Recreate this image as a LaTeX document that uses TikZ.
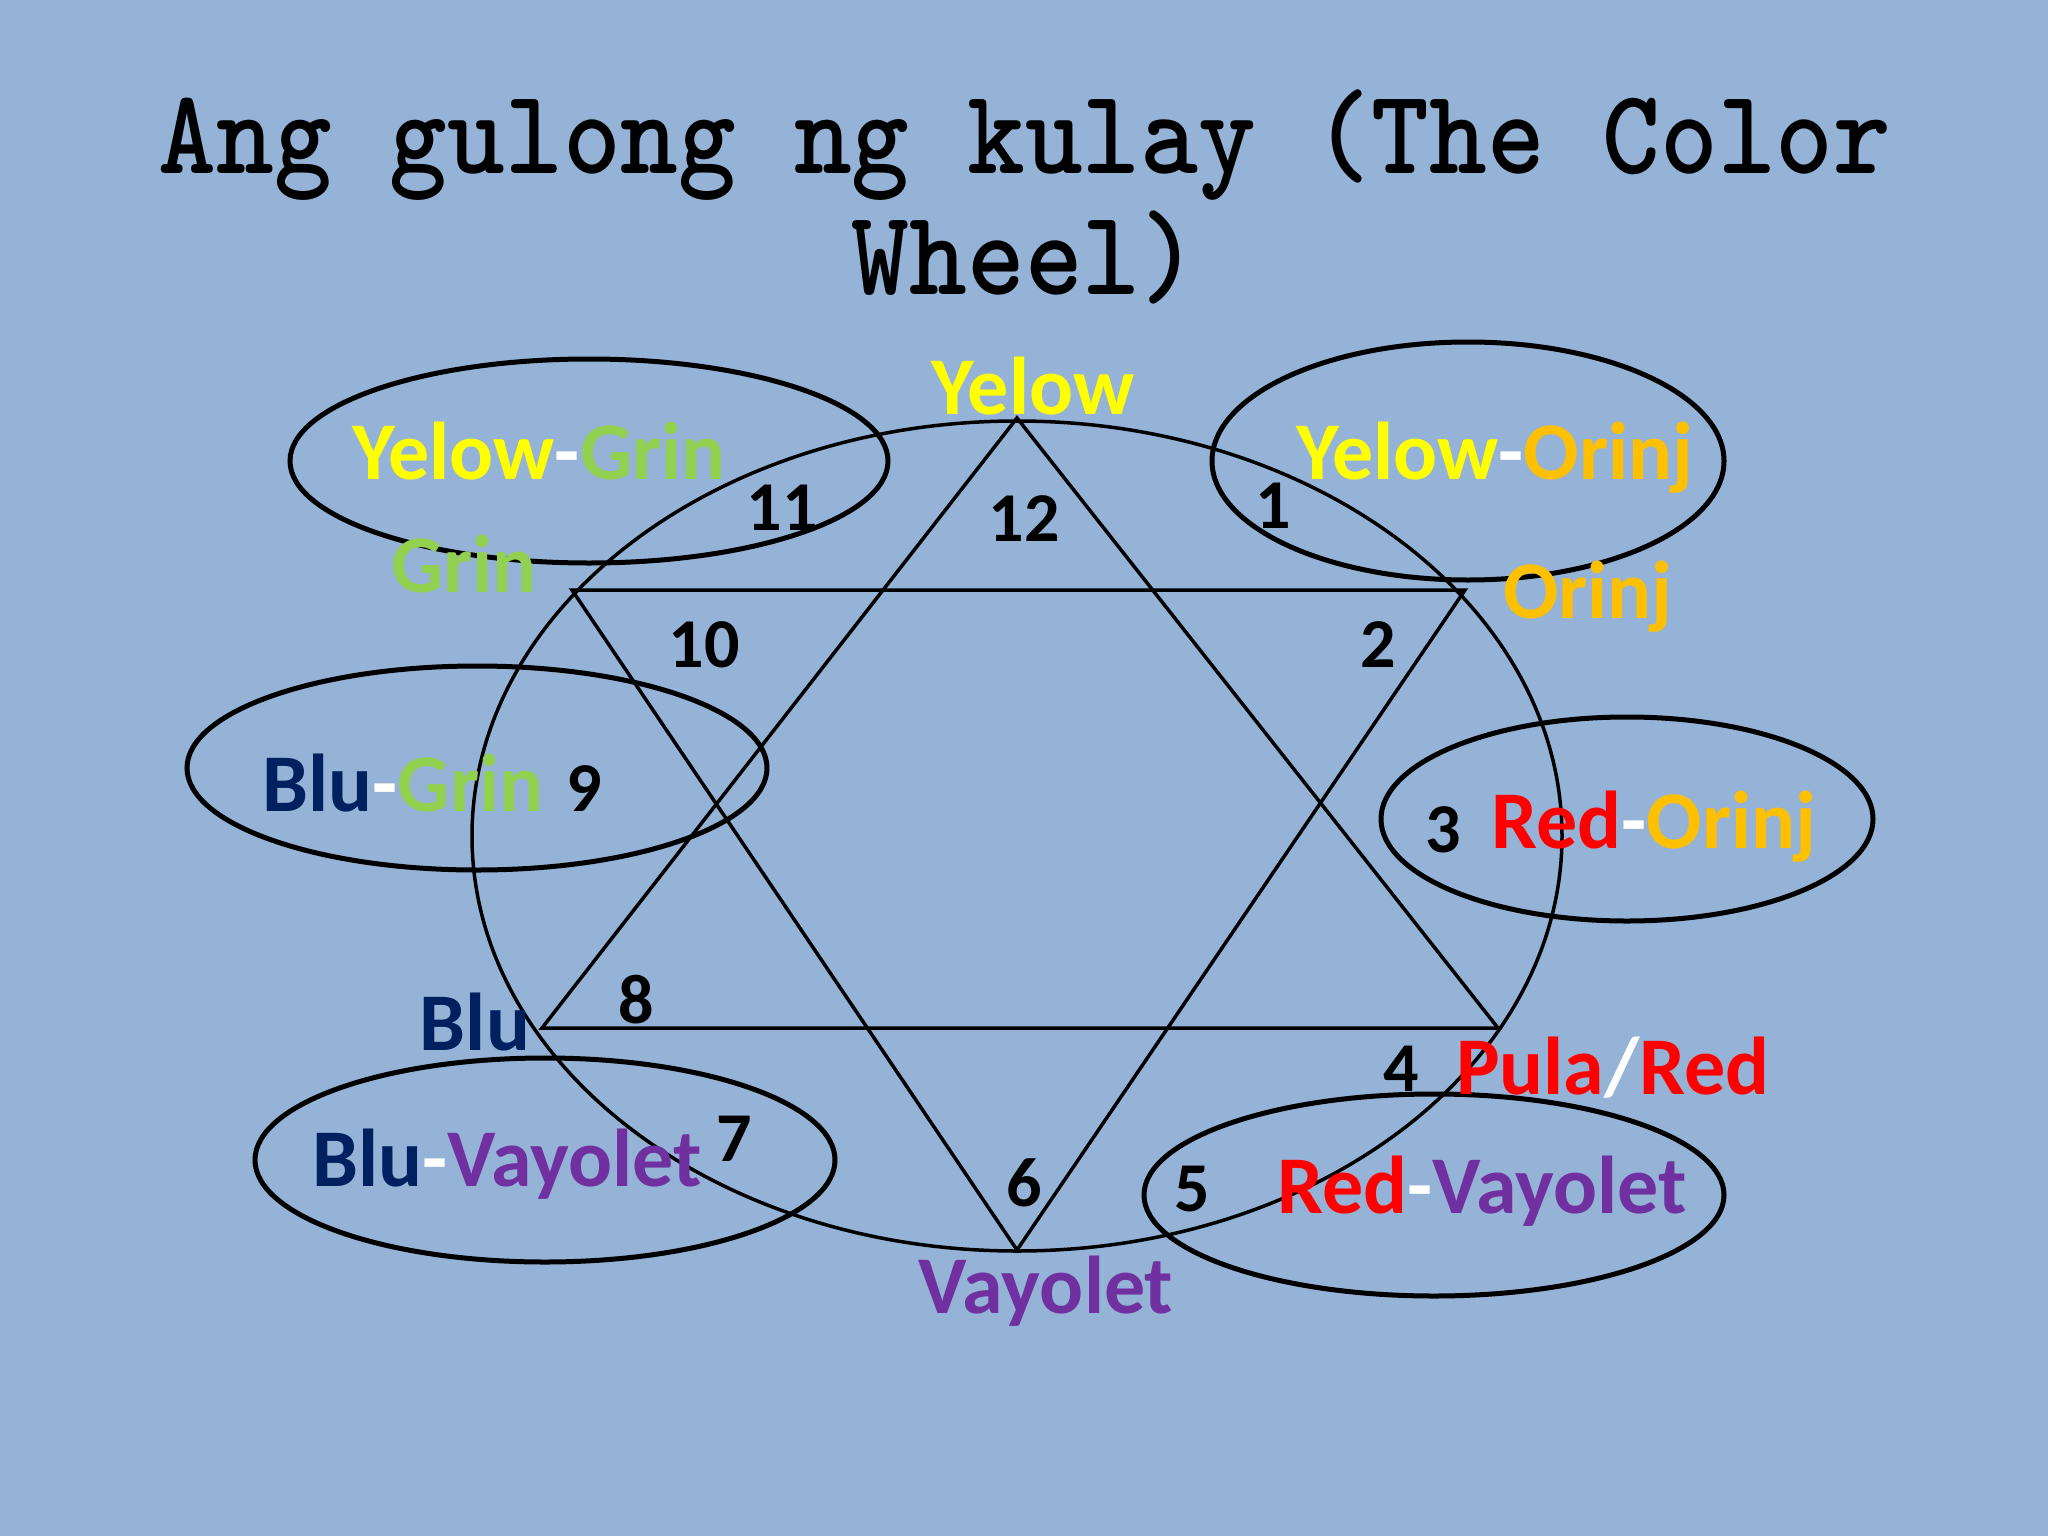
\documentclass[tikz,border=0pt]{standalone}
\usepackage{fontspec}
\setmainfont{Carlito}
\definecolor{bg}{HTML}{95B3D7}
\definecolor{cyel}{HTML}{FFFF00}
\definecolor{cgrn}{HTML}{92D050}
\definecolor{corn}{HTML}{FFC000}
\definecolor{cred}{HTML}{FF0000}
\definecolor{cblu}{HTML}{002060}
\definecolor{cvio}{HTML}{7030A0}
\tikzset{
  lbl/.style={anchor=base, inner sep=0pt, font=\fontsize{82}{90}\selectfont\bfseries},
  num/.style={anchor=base, inner sep=0pt, font=\fontsize{70}{80}\selectfont\bfseries, text=black},
  ring/.style={draw=black, line width=5pt},
  wheel/.style={draw=black, line width=3.5pt, line join=miter},
  ttl/.style={anchor=base, inner sep=0pt, yscale=1.1, font=\fontsize{110}{120}\selectfont\ttfamily\bfseries}
}
\newcommand{\wh}[1]{\textcolor{white}{#1}}
\begin{document}
\begin{tikzpicture}[x=1pt,y=-1pt]
\fill[bg] (0,0) rectangle (2048,1536);
\useasboundingbox (0,0) rectangle (2048,1536);
% title
\node[ttl] (t1) at (1025,174) {Ang gulong ng kulay (The Color};
\node[ttl] (t2) at (1025,294) {Wheel)};
% wheel
\draw[wheel] (1017,836) ellipse [x radius=545, y radius=415];
\draw[wheel] (1017,418) -- (1498,1028) -- (542,1028) -- cycle;
\draw[wheel] (572,590) -- (1465,590) -- (1017,1250) -- cycle;
% ellipses
\draw[ring] (589,461) ellipse [x radius=299, y radius=102];
\draw[ring] (1468,461) ellipse [x radius=256, y radius=119];
\draw[ring] (477,768) ellipse [x radius=290, y radius=102];
\draw[ring] (1627,819) ellipse [x radius=246, y radius=102];
\draw[ring] (545,1160) ellipse [x radius=290, y radius=102];
\draw[ring] (1434,1195) ellipse [x radius=290, y radius=101];
% labels
\node[lbl, text=cyel] (yel) at (1033,414) {Yelow};
\node[lbl] (yg) at (539,479) {\textcolor{cyel}{Yelow}\wh{-}\textcolor{cgrn}{Grin}};
\node[lbl] (yo) at (1495,479) {\textcolor{cyel}{Yelow}\wh{-}\textcolor{corn}{Orinj}};
\node[lbl, text=cgrn] (grn) at (464,592) {Grin};
\node[lbl, text=corn] (orn) at (1588,618) {Orinj};
\node[lbl] (bg) at (403,811) {\textcolor{cblu}{Blu}\wh{-}\textcolor{cgrn}{Grin}};
\node[lbl] (ro) at (1654,848) {\textcolor{cred}{Red}\wh{-}\textcolor{corn}{Orinj}};
\node[lbl, text=cblu] (blu) at (475,1050) {Blu};
\node[lbl] (red) at (1613,1094) {\textcolor{cred}{Pula}\wh{/}\textcolor{cred}{Red}};
\node[lbl] (bv) at (507,1186) {\textcolor{cblu}{Blu}\wh{-}\textcolor{cvio}{Vayolet}};
\node[lbl] (rv) at (1482,1213) {\textcolor{cred}{Red}\wh{-}\textcolor{cvio}{Vayolet}};
\node[lbl, text=cvio] (vio) at (1046,1313) {Vayolet};
% numbers
\node[num] (n1) at (1273,528) {1};
\node[num] (n2) at (1378,667) {2};
\node[num] (n3) at (1443,852) {3};
\node[num] (n4) at (1401,1091) {4};
\node[num] (n5) at (1192,1211) {5};
\node[num] (n6) at (1024,1206) {6};
\node[num] (n7) at (734,1161) {7};
\node[num] (n8) at (636,1023) {8};
\node[num] (n9) at (584,811) {9};
\node[num] (n10) at (704,667) {10};
\node[num] (n11) at (782,530) {11};
\node[num] (n12) at (1024,541) {12};
\end{tikzpicture}
\end{document}
